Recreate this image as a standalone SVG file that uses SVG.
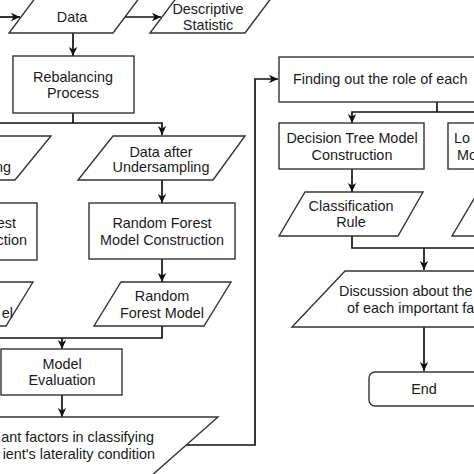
<svg xmlns="http://www.w3.org/2000/svg" width="474" height="474" viewBox="0 0 474 474">
<defs>
<style>
.bx{fill:#fff;stroke:#333;stroke-width:1.4}
.ln{fill:none;stroke:#111;stroke-width:1.7}
.ar{fill:none;stroke:#111;stroke-width:1.7;marker-end:url(#ah)}
text{font-family:"Liberation Sans",Arial,sans-serif;font-size:14.4px;fill:#1a1a1a}
.c{text-anchor:middle}
.e{text-anchor:end}
</style>
<marker id="ah" markerUnits="userSpaceOnUse" markerWidth="10" markerHeight="10" refX="9" refY="5" orient="auto">
<path d="M0,0.8 L9,5 L0,9.2 L2.5,5 z" fill="#111"/>
</marker>
</defs>
<rect width="474" height="474" fill="#fff"/>
<g id="connectors">
<path class="ar" d="M0,17 H20"/>
<path class="ar" d="M125,17 H161"/>
<path class="ar" d="M73,33 V56"/>
<path class="ln" d="M73,113 V123"/>
<path class="ar" d="M0,123 H162 V135"/>
<path class="ar" d="M162,180 V203"/>
<path class="ar" d="M162,259 V282"/>
<path class="ln" d="M162,326 V338 H0"/>
<path class="ar" d="M62,338 V349"/>
<path class="ar" d="M62,395 V417"/>
<path class="ar" d="M186,445 H255 V79 H278"/>
<path class="ln" d="M437,102 V112"/>
<path class="ar" d="M474,112 H352 V123"/>
<path class="ar" d="M352,169 V192"/>
<path class="ln" d="M352,236 V248 H474"/>
<path class="ar" d="M424,248 V270"/>
<path class="ar" d="M424,327 V371"/>
</g>
<g id="data"><polygon class="bx" points="42,-11 146,-11 113,33 9,33"/><text class="c" x="72" y="22">Data</text></g>
<g id="descriptive"><polygon class="bx" points="183,-11 278,-11 245,33 150,33"/><text class="c" x="208" y="14">Descriptive</text><text class="c" x="208" y="30">Statistic</text></g>
<g id="rebalancing"><rect class="bx" x="13" y="56" width="121" height="57"/><text class="c" x="73" y="82">Rebalancing</text><text class="c" x="73" y="98">Process</text></g>
<g id="oversampling"><polygon class="bx" points="-200,136 51,136 15,180 -236,180"/><text class="e" x="11" y="172">ng</text></g>
<g id="undersampling"><polygon class="bx" points="113,136 245,136 213,180 78,180"/><text class="c" x="161" y="157">Data after</text><text class="c" x="161" y="172">Undersampling</text></g>
<g id="rf-construction-left"><rect class="bx" x="-110" y="203" width="147" height="57"/><text class="e" x="16" y="228">est</text><text class="e" x="27" y="245">ction</text></g>
<g id="rf-construction"><rect class="bx" x="89" y="203" width="146" height="56"/><text class="c" x="162" y="228">Random Forest</text><text class="c" x="162" y="245">Model Construction</text></g>
<g id="rf-model-left"><polygon class="bx" points="-80,282 33,282 6,326 -100,326"/><text class="e" x="13" y="318">el</text></g>
<g id="rf-model"><polygon class="bx" points="121,282 231,282 204,326 94,326"/><text class="c" x="162" y="301">Random</text><text class="c" x="162" y="318">Forest Model</text></g>
<g id="evaluation"><rect class="bx" x="1" y="349" width="121" height="46"/><text class="c" x="62" y="369">Model</text><text class="c" x="62" y="385">Evaluation</text></g>
<g id="important-factors"><polygon class="bx" points="-200,417 218,417 150,477 -270,477"/><text class="e" x="154" y="442">ant factors in classifying</text><text class="e" x="155" y="459">ient's laterality condition</text></g>
<g id="finding"><rect class="bx" x="279" y="57" width="210" height="45"/><text x="293" y="84">Finding out the role of each</text></g>
<g id="decision-tree"><rect class="bx" x="279" y="123" width="145" height="46"/><text class="c" x="352" y="143">Decision Tree Model</text><text class="c" x="352" y="160">Construction</text></g>
<g id="logistic"><rect class="bx" x="448" y="123" width="145" height="46"/><text x="454" y="143">Lo</text><text x="457" y="160">Mo</text></g>
<g id="classification-rule"><polygon class="bx" points="305,192 423,192 398,236 279,236"/><text class="c" x="351" y="211">Classification</text><text class="c" x="351" y="227">Rule</text></g>
<g id="logistic-output"><polygon class="bx" points="478,192 600,192 574,236 452,236"/></g>
<g id="discussion"><polygon class="bx" points="345,271 560,271 507,327 292,327"/><text x="339" y="296">Discussion about the</text><text x="347" y="313">of each important fa</text></g>
<g id="end"><rect class="bx" x="369" y="372" width="111" height="34" rx="6"/><text class="c" x="424" y="394">End</text></g>
</svg>
